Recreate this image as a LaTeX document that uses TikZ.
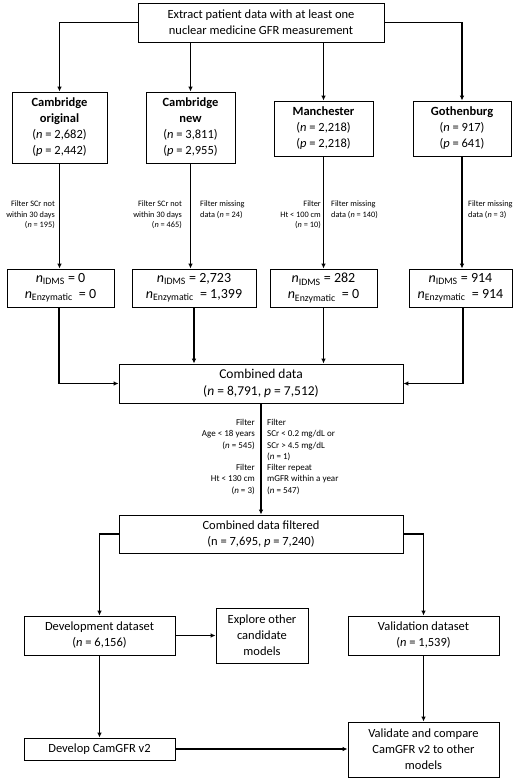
\documentclass[tikz,border=0pt]{standalone}
\usepackage{fontspec}
\setmainfont{Carlito}
\usetikzlibrary{arrows.meta}
\begin{document}
\begin{tikzpicture}[x=1pt,y=-1pt,
  box/.style={draw,line width=0.8pt,align=center,inner sep=1pt,font=\fontsize{12.5}{16}\selectfont},
  arr/.style={line width=1.6pt,-{Latex[length=5pt,width=4.5pt]}},
  lbl/.style={inner sep=0pt,font=\fontsize{8.3}{10.5}\selectfont},
  mlbl/.style={inner sep=0pt,font=\fontsize{9}{11.3}\selectfont}]
\useasboundingbox (0,0) rectangle (520,781);
% boxes
\node[box,minimum width=246pt,minimum height=39pt] (top) at (261,22.5) {Extract patient data with at least one\\nuclear medicine GFR measurement};
\node[box,minimum width=95pt,minimum height=71pt] (co) at (59.5,127.5) {\textbf{Cambridge}\\\textbf{original}\\(\textit{n} = 2,682)\\(\textit{p} = 2,442)};
\node[box,minimum width=89pt,minimum height=71pt] (cn) at (190.5,127.5) {\textbf{Cambridge}\\\textbf{new}\\(\textit{n} = 3,811)\\(\textit{p} = 2,955)};
\node[box,minimum width=99pt,minimum height=55pt] (man) at (323.5,128.5) {\textbf{Manchester}\\(\textit{n} = 2,218)\\(\textit{p} = 2,218)};
\node[box,minimum width=98pt,minimum height=55pt] (got) at (462,128.5) {\textbf{Gothenburg}\\(\textit{n} = 917)\\(\textit{p} = 641)};
\tikzset{nb/.style={box,minimum height=38pt,font=\fontsize{14}{16}\selectfont}}
\node[nb,minimum width=107pt] (b1) at (60.5,288) {\textit{n}\textsubscript{IDMS} = 0\\\textit{n}\textsubscript{Enzymatic}\ \ = 0};
\node[nb,minimum width=124pt] (b2) at (194,288) {\textit{n}\textsubscript{IDMS} = 2,723\\\textit{n}\textsubscript{Enzymatic}\ \ = 1,399};
\node[nb,minimum width=107pt] (b3) at (323.5,288) {\textit{n}\textsubscript{IDMS} = 282\\\textit{n}\textsubscript{Enzymatic}\ \ = 0};
\node[nb,minimum width=103pt] (b4) at (460.5,288) {\textit{n}\textsubscript{IDMS} = 914\\\textit{n}\textsubscript{Enzymatic}\ \ = 914};
\node[box,minimum width=284pt,minimum height=39pt,font=\fontsize{13.5}{17}\selectfont] (comb) at (261,383.5) {Combined data\\(\textit{n} = 8,791, \textit{p} = 7,512)};
\node[box,minimum width=284pt,minimum height=38pt] (filt) at (261,534) {Combined data filtered\\(n = 7,695, \textit{p} = 7,240)};
\node[box,minimum width=151pt,minimum height=39pt] (dev) at (99.5,635.5) {Development dataset\\(\textit{n} = 6,156)};
\node[box,minimum width=92pt,minimum height=55pt] (exp) at (262,635.5) {Explore other\\candidate\\models};
\node[box,minimum width=151pt,minimum height=39pt] (val) at (423.5,635.5) {Validation dataset\\(\textit{n} = 1,539)};
\node[box,minimum width=151pt,minimum height=22pt] (dcam) at (99.5,749) {Develop CamGFR v2};
\node[box,minimum width=151pt,minimum height=55pt] (vcam) at (423.5,749.5) {Validate and compare\\CamGFR v2 to other\\models};
% connectors top
\draw[arr] (top.west) -| (co.north);
\draw[arr] (top.south -| cn.north) -- (cn.north);
\draw[arr] (top.south -| man.north) -- (man.north);
\draw[arr] (top.east) -| (got.north);
\draw[arr] (co.south) -- (co.south |- b1.north);
\draw[arr] (cn.south) -- (cn.south |- b2.north);
\draw[arr] (man.south) -- (man.south |- b3.north);
\draw[arr] (got.south) -- (got.south |- b4.north);
\coordinate (c1) at (59,307);
\coordinate (c4) at (463,307);
\draw[arr] (c1) |- (comb.west);
\draw[arr] (b2.south) -- (b2.south |- comb.north);
\draw[arr] (b3.south) -- (b3.south |- comb.north);
\draw[arr] (c4) |- (comb.east);
\draw[arr] (comb.south) -- (filt.north);
\draw[arr] (filt.west) -| (dev.north);
\draw[arr] (filt.east) -| (val.north);
\draw[arr] (dev.east) -- (exp.west);
\draw[arr] (dev.south) -- (dcam.north);
\draw[arr] (val.south) -- (vcam.north);
\draw[arr] (dcam.east) -- (dcam.east -| vcam.west);
% labels
\node[lbl,anchor=north east,align=right] (l1) at (55,201) {Filter SCr not\\within 30 days\\(\textit{n} = 195)};
\node[lbl,anchor=north east,align=right] (l2) at (182,201) {Filter SCr not\\within 30 days\\(\textit{n} = 465)};
\node[lbl,anchor=north west,align=left] (l3) at (200,201) {Filter missing\\data (\textit{n} = 24)};
\node[lbl,anchor=north east,align=right] (l4) at (321,201) {Filter\\Ht < 100 cm\\(\textit{n} = 10)};
\node[lbl,anchor=north west,align=left] (l5) at (331,201) {Filter missing\\data (\textit{n} = 140)};
\node[lbl,anchor=north west,align=left] (l6) at (468,201) {Filter missing\\data (\textit{n} = 3)};
\node[mlbl,anchor=north east,align=right] (m1) at (255,419) {Filter\\Age < 18 years\\(\textit{n} = 545)};
\node[mlbl,anchor=north east,align=right] (m2) at (255,464) {Filter\\Ht < 130 cm\\(\textit{n} = 3)};
\node[mlbl,anchor=north west,align=left] (m3) at (267,419) {Filter\\SCr < 0.2 mg/dL or\\SCr > 4.5 mg/dL\\(\textit{n} = 1)\\Filter repeat\\mGFR within a year\\(\textit{n} = 547)};
\end{tikzpicture}
\end{document}
